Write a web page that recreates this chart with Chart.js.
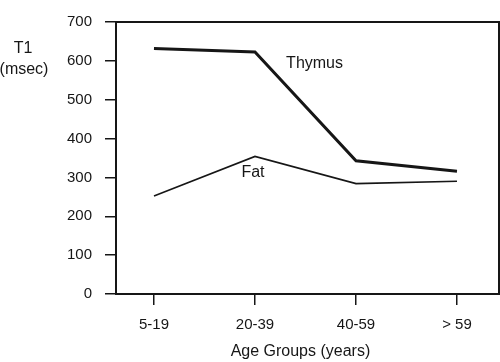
<!DOCTYPE html>
<html>
<head>
<meta charset="utf-8">
<script src="https://cdn.jsdelivr.net/npm/chart.js@4"></script>
<style>
  html, body { margin: 0; padding: 0; background: #fff; }
  #wrap { width: 500px; height: 362px; }
</style>
</head>
<body>
<div id="wrap"><canvas id="myChart"></canvas></div>
<script>
// data
const ageGroups = ['5-19', '20-39', '40-59', '> 59'];
const thymusT1 = [632, 623, 343, 316];
const fatT1 = [252, 354, 284, 290];
const yTicks = [0, 100, 200, 300, 400, 500, 600, 700];

const ink = '#161616';
const family = '"Liberation Sans", Arial, sans-serif';
const tickFont = { family: family, size: 15 };
const labelSize = 16;

function toPoints(values) {
    return values.map((v, i) => ({ x: i, y: v }));
}

// frame, axis titles and the series labels inside the plot
const extras = {
    id: 'extras',
    afterDraw(chart) {
        const ctx = chart.ctx;
        const a = chart.chartArea;
        const xs = chart.scales.x, ys = chart.scales.y;
        ctx.save();
        ctx.strokeStyle = ink;
        ctx.lineWidth = 2;
        ctx.strokeRect(a.left, a.top, a.right - a.left, a.bottom - a.top);

        ctx.fillStyle = ink;
        ctx.font = labelSize + 'px ' + family;
        ctx.textAlign = 'center';
        ctx.textBaseline = 'middle';
        ctx.fillText('T1', 23, 49);
        ctx.fillText('(msec)', 24, 70);
        ctx.fillText('Age Groups (years)', xs.getPixelForValue(1.45), 352);

        ctx.fillText('Thymus', xs.getPixelForValue(1.59), ys.getPixelForValue(593));
        ctx.fillText('Fat', xs.getPixelForValue(0.98), ys.getPixelForValue(313));
        ctx.restore();
    }
};

window.onload = function () {
    const ctx = document.getElementById('myChart').getContext('2d');
    new Chart(ctx, {
        type: 'line',
        data: {
            datasets: [{
                label: 'Thymus',
                data: toPoints(thymusT1),
                borderColor: ink,
                borderWidth: 3,
                pointRadius: 0,
                tension: 0
            }, {
                label: 'Fat',
                data: toPoints(fatT1),
                borderColor: ink,
                borderWidth: 1.6,
                pointRadius: 0,
                tension: 0
            }]
        },
        options: {
            responsive: true,
            maintainAspectRatio: false,
            animation: false,
            layout: { padding: { top: 6, right: 1, left: 0, bottom: 0 } },
            plugins: {
                legend: { display: false },
                tooltip: { enabled: false }
            },
            scales: {
                x: {
                    type: 'linear',
                    min: -0.376,
                    max: 3.416,
                    afterBuildTicks: s => { s.ticks = ageGroups.map((_, i) => ({ value: i })); },
                    afterFit: s => { s.height = 68; },
                    border: { display: false },
                    grid: { drawOnChartArea: false, drawTicks: true, tickLength: 11, color: ink, lineWidth: 1.5 },
                    ticks: {
                        color: ink,
                        font: tickFont,
                        padding: 11,
                        maxRotation: 0,
                        callback: v => ageGroups[v]
                    }
                },
                y: {
                    min: 0,
                    max: 700,
                    afterBuildTicks: s => { s.ticks = yTicks.map(v => ({ value: v })); },
                    afterFit: s => { s.width = 116; },
                    border: { display: false },
                    grid: { drawOnChartArea: false, drawTicks: true, tickLength: 11, color: ink, lineWidth: 1.5 },
                    ticks: { color: ink, font: tickFont, padding: 13 }
                }
            }
        },
        plugins: [extras]
    });
};
</script>
</body>
</html>
